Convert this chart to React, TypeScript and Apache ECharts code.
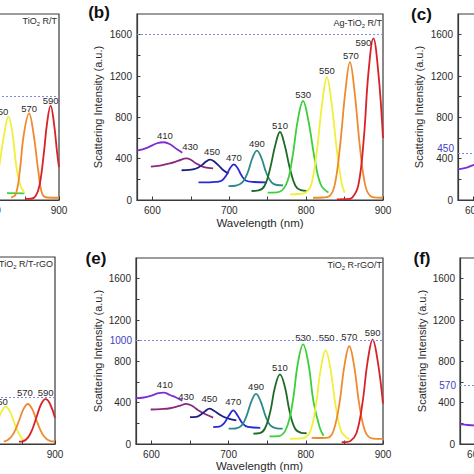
import React, { useEffect, useRef } from 'react';
import * as echarts from 'echarts';

// Excitation wavelengths (nm); each spectrum is tagged with its own value above the peak.
const excitation = [410, 430, 450, 470, 490, 510, 530, 550, 570, 590];

// Axis ticks
const wavelengthTicks = [600, 650, 700, 750, 800, 850, 900];
const wavelengthLabels = [600, 700, 800, 900];
const intensityTicks = [0, 200, 400, 600, 800, 1000, 1200, 1400, 1600];
const intensityLabels = [0, 400, 800, 1200, 1600];

// Spectra: [wavelength (nm), scattering intensity (a.u.)]

// (a) TiO2 R/T
const a530 = [[822, 66], [848, 65]];
const a550 = [[796, 66], [804, 110], [810, 320], [818, 650], [824, 810], [830, 650], [836, 320], [842, 140], [848, 70]];
const a570 = [[828, 24], [835, 55], [841, 274], [847, 629], [855, 839], [862, 629], [869, 274], [875, 55], [882, 24], [900, 22]];
const a590 = [[849, 10], [858, 12], [865, 38], [871, 150], [877.5, 468], [882, 740], [887.4, 913], [892.5, 740], [897, 468], [900, 318]];

// (b) Ag-TiO2 R/T
const b410 = [[580, 477], [593, 505], [606, 549], [615, 559], [623, 539], [632, 491], [639, 458]];
const b430 = [[598, 323], [610, 333], [623, 355], [634, 380], [644, 402], [650, 390], [656, 358], [667, 318], [679, 307]];
const b450 = [[638, 288], [648, 291], [657, 305], [664, 335], [670, 372], [675, 390], [680, 375], [686, 335], [692, 290], [699, 255]];
const b470 = [[660, 170], [672, 171], [682, 175], [690, 186], [696, 236], [701, 307], [706, 345], [711, 307], [716, 236], [722, 186], [732, 174], [749, 171]];
const b490 = [[699, 135], [708, 138], [717, 170], [724, 266], [730, 404], [736, 477], [742, 404], [748, 266], [755, 170], [762, 145], [770, 142]];
const b510 = [[729, 87], [738, 92], [746, 138], [753, 301], [760, 534], [766, 658], [772, 534], [779, 301], [786, 138], [793, 95], [801, 88]];
const b530 = [[750, 71], [762, 73], [774, 150], [782, 404], [789, 766], [796, 958], [803, 766], [811, 404], [819, 150], [829, 72]];
const b550 = [[779, 55], [790, 58], [800, 75], [807, 156], [814, 480], [821, 942], [827, 1188], [833, 942], [840, 480], [846, 170], [850, 72]];
const b570 = [[809, 22], [822, 24], [830, 36], [837, 139], [844, 514], [851, 1048], [857, 1333], [863, 1048], [870, 514], [877, 139], [884, 36], [892, 23], [900, 22]];
const b590 = [[840, 7], [852, 8], [860, 24], [868, 146], [875, 591], [881, 1227], [887.5, 1565], [894, 1227], [900, 600]];

// (c)
const c410 = [[580, 297], [590, 310], [600, 338], [612, 362], [625, 350]];

// (d) TiO2 R/T-rGO
const d550 = [[789, 32], [797, 50], [805, 100], [813, 221], [818, 304], [825, 360], [832, 304], [837, 221], [843.5, 119], [850, 50], [856, 30]];
const d570 = [[822, 22], [828.6, 41], [834.6, 79], [839.6, 135], [845.6, 231], [852.1, 338], [858.6, 385], [865.1, 338], [871.6, 231], [877.6, 135], [882.6, 79], [888.6, 41], [895, 26], [900, 24]];
const d590 = [[845, 22], [852, 28], [859, 64], [865, 135], [872, 262], [879, 385], [885.8, 431], [892.5, 385], [900, 250]];

// (e) TiO2 R-rGO/T
const e410 = [[580, 443], [590, 450], [599, 466], [609, 492], [616, 498], [624, 474], [632, 450], [640, 418]];
const e430 = [[599, 334], [612, 338], [624, 346], [636, 368], [645, 388], [652, 372], [660, 330], [670, 288], [680, 255]];
const e450 = [[650, 260], [658, 263], [665, 290], [670, 320], [675, 342], [681, 322], [689, 282], [698, 250], [710, 228]];
const e470 = [[680, 164], [688, 168], [694, 200], [700, 270], [706, 325], [712, 270], [718, 200], [725, 165], [741, 157]];
const e490 = [[700, 148], [709, 150], [717, 180], [723, 268], [729.5, 412], [735.5, 485], [741.5, 412], [748, 268], [754, 180], [762, 152], [770, 148]];
const e510 = [[732, 100], [740, 105], [747, 150], [754, 315], [760, 549], [766.5, 673], [773, 549], [779, 315], [786, 150], [794, 108], [801, 104]];
const e530 = [[753, 74], [765, 77], [775, 155], [783, 408], [789.5, 772], [796.5, 965], [803.5, 772], [810, 408], [818, 160], [823, 80]];
const e550 = [[779.5, 51], [790, 52], [798, 60], [806, 127], [813, 372], [819.3, 722], [825.7, 908], [832, 722], [838.6, 372], [845.7, 127], [853, 60], [857, 52]];
const e570 = [[807.6, 60], [820, 58], [829, 62], [836, 130], [843.4, 386], [849.9, 752], [856.3, 946], [862.7, 752], [869.2, 386], [876.5, 130], [884, 58], [892, 50], [900, 50]];
const e590 = [[846.5, 19], [852, 19], [858, 30], [865.7, 107], [873.3, 390], [880, 794], [886.6, 1009], [893.3, 794], [900, 390]];

// (f)
const f410 = [[580, 192], [590, 184], [600, 181], [612, 188], [625, 205]];

// Reference levels (dotted lines)
const refA = 1000;
const refB = 1600;
const refC = 450;
const refD = 450;
const refE = 1000;
const refF = 570;

// ---- styling ----
const FONT = 'Arial, "Liberation Sans", Helvetica, sans-serif';
const AXIS_COLOR = '#3a3a3a';
const TEXT_COLOR = '#2a2a2a';
const REF_COLOR = '#7f8be0';
const TAG_COLOR = '#3d3dc2';

// The figure is wider than the visible window: the canvas starts SHIFT px left of it.
const SHIFT = 200;
const VIEW = 474;
const CANVAS_W = 920;

const lineColor: Record<number, string> = {
  410: '#7b2fd1',
  430: '#8a2a7c',
  450: '#1d1d8a',
  470: '#2a2ad2',
  490: '#2b8a88',
  510: '#1f6a28',
  530: '#3ccf3c',
  550: '#f0f03a',
  570: '#ee8b30',
  590: '#d82228',
};

type Curve = [number, number[][]];
interface Panel {
  grid: { left: number; top: number; width: number; height: number };
  curves: Curve[];
  tagged: number[];
  nudge: Record<number, number[]>;
  ref: number;
  refTag: string;
  refTagOffset: number[];
  xNameGap: number;
  yNameGap: number;
}

const panels: Panel[] = [
  {
    grid: { left: -187, top: 14, width: 246, height: 186 },
    curves: [[530, a530], [550, a550], [570, a570], [590, a590]],
    tagged: [550, 570, 590],
    nudge: { 550: [-8, 2], 570: [0, 2], 590: [0, 2] },
    ref: refA, refTag: '', refTagOffset: [0, 0], xNameGap: 17, yNameGap: 34,
  },
  {
    grid: { left: 137, top: 14, width: 246, height: 186 },
    curves: [[410, b410], [430, b430], [450, b450], [470, b470], [490, b490], [510, b510], [530, b530], [550, b550], [570, b570], [590, b590]],
    tagged: excitation,
    nudge: { 410: [1, 0], 430: [4, -4.5], 450: [2, -1], 570: [1, 0], 590: [-10, 11] },
    ref: refB, refTag: '', refTagOffset: [0, 0], xNameGap: 17, yNameGap: 34,
  },
  {
    grid: { left: 458, top: 14, width: 246, height: 186 },
    curves: [[410, c410]],
    tagged: [],
    nudge: {},
    ref: refC, refTag: '450', refTagOffset: [0, -5], xNameGap: 17, yNameGap: 34,
  },
  {
    grid: { left: -192, top: 257, width: 247, height: 187 },
    curves: [[550, d550], [570, d570], [590, d590]],
    tagged: [550, 570, 590],
    nudge: { 550: [-6, 2], 570: [-3, -5] },
    ref: refD, refTag: '', refTagOffset: [0, 0], xNameGap: 16, yNameGap: 33,
  },
  {
    grid: { left: 136, top: 258, width: 247, height: 186 },
    curves: [[410, e410], [430, e430], [450, e450], [470, e470], [490, e490], [510, e510], [530, e530], [550, e550], [570, e570], [590, e590]],
    tagged: excitation,
    nudge: { 410: [1, -1], 450: [0, -3], 470: [0, -1.5], 550: [1, -6], 570: [0, -2.5] },
    ref: refE, refTag: '1000', refTagOffset: [0, 0], xNameGap: 16, yNameGap: 33,
  },
  {
    grid: { left: 460, top: 258, width: 247, height: 186 },
    curves: [[410, f410]],
    tagged: [],
    nudge: {},
    ref: refF, refTag: '570', refTagOffset: [0, 0], xNameGap: 16, yNameGap: 33,
  },
];

function peakIndex(pts: number[][]): number {
  let best = 0;
  pts.forEach((p, i) => {
    if (p[1] > pts[best][1]) best = i;
  });
  return best;
}

const plain = (v: number) => String(v);

function buildOption(): echarts.EChartsOption {
  const grid = panels.map((p) => ({
    ...p.grid,
    left: p.grid.left + SHIFT,
    show: true,
    borderColor: AXIS_COLOR,
    borderWidth: 1.2,
    backgroundColor: 'transparent',
  }));

  const xAxis = panels.map((p, i) => ({
    gridIndex: i,
    type: 'value' as const,
    min: 580,
    max: 900,
    name: 'Wavelength (nm)',
    nameLocation: 'middle' as const,
    nameGap: p.xNameGap,
    nameTextStyle: { fontSize: 11.5, color: TEXT_COLOR, fontFamily: FONT },
    axisLine: { show: true, onZero: false, lineStyle: { color: AXIS_COLOR, width: 1.2 } },
    axisTick: { show: true, inside: true, length: 3.5, customValues: wavelengthTicks, lineStyle: { color: AXIS_COLOR, width: 1 } },
    axisLabel: { customValues: wavelengthLabels, formatter: plain, fontSize: 10, color: TEXT_COLOR, margin: 5, fontFamily: FONT },
    splitLine: { show: false },
  }));

  const yAxis = panels.map((p, i) => ({
    gridIndex: i,
    type: 'value' as const,
    min: 0,
    max: 1800,
    name: 'Scattering Intensity (a.u.)',
    nameLocation: 'middle' as const,
    nameGap: p.yNameGap,
    nameRotate: 90,
    nameTextStyle: { fontSize: 11, color: TEXT_COLOR, fontFamily: FONT },
    axisLine: { show: true, onZero: false, lineStyle: { color: AXIS_COLOR, width: 1.2 } },
    axisTick: { show: true, inside: true, length: 3.5, customValues: intensityTicks, lineStyle: { color: AXIS_COLOR, width: 1 } },
    axisLabel: { customValues: intensityLabels, formatter: plain, fontSize: 10, color: TEXT_COLOR, margin: 5, fontFamily: FONT },
    splitLine: { show: false },
  }));

  const series: any[] = [];
  panels.forEach((p, i) => {
    p.curves.forEach(([ex, pts], k) => {
      const peak = peakIndex(pts);
      const tagged = p.tagged.includes(ex);
      const data = pts.map((pt, j) =>
        tagged && j === peak
          ? {
              value: pt,
              label: {
                show: true,
                formatter: String(ex),
                position: 'top',
                distance: 2,
                offset: p.nudge[ex] || [0, 0],
                fontSize: 9.5,
                color: TEXT_COLOR,
                fontFamily: FONT,
              },
            }
          : pt
      );
      const s: any = {
        type: 'line',
        xAxisIndex: i,
        yAxisIndex: i,
        data,
        smooth: 0.4,
        symbol: 'circle',
        symbolSize: 0,
        showSymbol: true,
        lineStyle: { color: lineColor[ex], width: 1.8 },
        itemStyle: { color: lineColor[ex] },
        emphasis: { disabled: true },
        z: 3,
      };
      if (k === 0) {
        s.markLine = {
          silent: true,
          symbol: ['none', 'none'],
          lineStyle: { color: REF_COLOR, type: [2, 2], width: 1 },
          label: p.refTag
            ? {
                show: true,
                position: 'start',
                formatter: p.refTag,
                color: TAG_COLOR,
                fontSize: 10,
                distance: 4,
                offset: p.refTagOffset,
                fontFamily: FONT,
              }
            : { show: false },
          data: [{ yAxis: p.ref }],
        };
      }
      series.push(s);
    });
  });

  const letter = (text: string, x: number, y: number) => ({
    type: 'text',
    x: x + SHIFT,
    y,
    style: {
      text,
      font: `bold 17px ${FONT}`,
      fill: '#111',
      align: 'center',
      verticalAlign: 'middle',
      textAlign: 'center',
      textVerticalAlign: 'middle',
    },
  });

  const sample = (main: string, tail: string, x: number, y: number) => ({
    type: 'text',
    x: x + SHIFT,
    y,
    style: {
      text: `{m|${main}}{s|2}{m|${tail}}`,
      rich: {
        m: { fontSize: 9, fontFamily: FONT, fill: TEXT_COLOR, color: TEXT_COLOR, lineHeight: 12 },
        s: { fontSize: 6, fontFamily: FONT, fill: TEXT_COLOR, color: TEXT_COLOR, lineHeight: 12, verticalAlign: 'bottom' },
      },
      align: 'right',
      verticalAlign: 'middle',
      textAlign: 'right',
      textVerticalAlign: 'middle',
    },
  });

  const graphic = [
    letter('(b)', 99, 12),
    letter('(c)', 421.5, 14),
    letter('(e)', 96, 258.5),
    letter('(f)', 422, 258.5),
    sample('TiO', ' R/T', 57, 21),
    sample('Ag-TiO', ' R/T', 382, 22.7),
    sample('TiO', ' R/T-rGO', 53, 263.7),
    sample('TiO', ' R-rGO/T', 382, 265.3),
  ];

  return {
    animation: false,
    backgroundColor: '#ffffff',
    textStyle: { fontFamily: FONT },
    grid,
    xAxis,
    yAxis,
    series,
    graphic,
  } as any;
}

export default function App() {
  const ref = useRef<HTMLDivElement>(null);
  useEffect(() => {
    if (!ref.current) return;
    const chart = echarts.init(ref.current, undefined, { renderer: 'svg', width: CANVAS_W, height: VIEW });
    chart.setOption(buildOption());
    return () => chart.dispose();
  }, []);
  return (
    <div
      style={{ position: 'fixed', left: 0, top: 0, width: VIEW, height: VIEW, overflow: 'hidden', background: '#fff' }}
    >
      <div
        ref={ref}
        style={{ position: 'absolute', left: -SHIFT, top: 0, width: CANVAS_W, height: VIEW }}
      />
    </div>
  );
}
